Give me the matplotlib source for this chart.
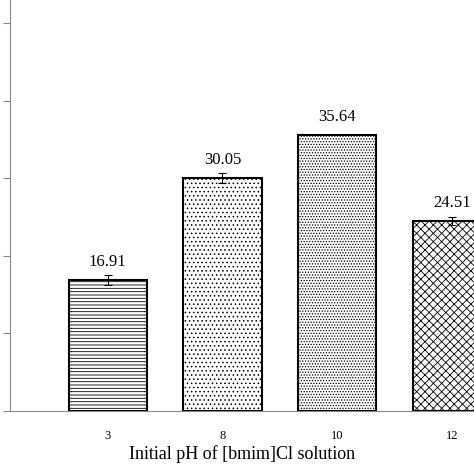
import matplotlib
matplotlib.use("Agg")
from matplotlib import pyplot as plt

ph_labels = ["3", "8", "10", "12"]
values = [16.91, 30.05, 35.64, 24.51]
errors = [0.6, 0.6, 0.0, 0.5]
hatches = ["-----", "....", "......", "xxxx"]

plt.rcParams["font.family"] = ["Liberation Serif", "DejaVu Serif"]
plt.rcParams["hatch.linewidth"] = 0.6

fig = plt.figure(figsize=(4.74, 4.74), dpi=100)
ax = fig.add_axes([10 / 474, 63 / 474, 1 - 10 / 474, 411 / 474])

x = range(len(values))
for i, (v, e, h) in enumerate(zip(values, errors, hatches)):
    ax.bar(i, v, width=0.68, color="white", edgecolor="black", linewidth=1.5, hatch=h)
    if e > 0:
        ax.errorbar(i, v, yerr=e, color="black", capsize=3, elinewidth=0.8, capthick=0.8)
    ax.text(i, v + 1.3, f"{v:.2f}", ha="center", va="bottom", fontsize=12)

ax.set_xlim(-0.85, 3.19)
ax.set_ylim(0, 53)
ax.set_yticks([0, 10, 20, 30, 40, 50])
ax.set_yticklabels([])
ax.set_xticks(list(x))
ax.set_xticklabels(ph_labels, fontsize=9)
ax.tick_params(axis="x", length=0, pad=14)
ax.tick_params(axis="y", length=5, color="#888888")
for s in ["top", "right"]:
    ax.spines[s].set_visible(False)
ax.spines["left"].set_color("#888888")
ax.spines["bottom"].set_color("#888888")
ax.set_xlabel("Initial pH of [bmim]Cl solution", fontsize=13, labelpad=2)

fig.savefig("out.png", dpi=100)
